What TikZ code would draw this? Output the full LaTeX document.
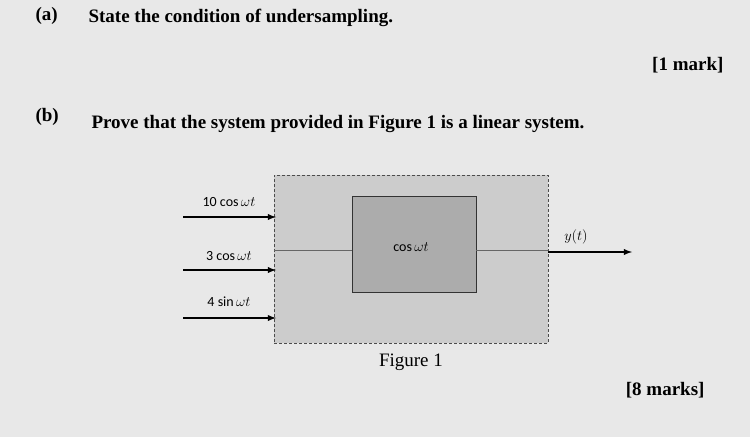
\documentclass[tikz,border=0pt]{standalone}
\usepackage{fontspec}
\setmainfont{Liberation Serif}
\newfontfamily\carfont{Carlito}
\begin{document}
\begin{tikzpicture}[x=1pt,y=-1pt,
 q/.style={anchor=west,font=\fontsize{19}{21}\selectfont\bfseries},
 lab/.style={font=\carfont\fontsize{14}{16}\selectfont},
 arr/.style={-latex,line width=1.8pt},
 thinln/.style={draw=black!60,line width=0.5pt}]
\fill[gray!18] (0,0) rectangle (750,437);
\useasboundingbox (0,0) rectangle (750,437);
\node[q] (a) at (32,16) {(a)};
\node[q] (qa) at (85,18) {State the condition of undersampling.};
\node[q,anchor=east] (m1) at (727,65) {[1 mark]};
\node[q] (b) at (32,117) {(b)};
\node[q] (qb) at (88,124) {Prove that the system provided in Figure 1 is a linear system.};
\node[draw=black!70,densely dashed,fill=gray!40,minimum width=274pt,minimum height=168pt,inner sep=0] (outer) at (411,259) {};
\node[draw=black!80,line width=0.8pt,fill=gray!65,minimum width=124pt,minimum height=96pt,inner sep=0] (inner) at (414,244) {};
\node[lab] (c) at (411,247) {cos\,$\omega t$};
\coordinate (ol) at (outer.west|-0,250);
\coordinate (or) at (outer.east|-0,250);
\draw[thinln] (ol) -- (inner.west|-ol);
\draw[thinln] (inner.east|-or) -- (or);
\coordinate (yo) at (548,252);
\coordinate (ye) at (632,252);
\draw[arr] (yo) -- (ye);
\node[lab] (y) at (576,237) {$y(t)$};
\foreach \n/\yy/\ly/\t in {i1/217/202/10 cos\,$\omega t$, i2/270/256/3 cos\,$\omega t$, i3/318/302/4 sin\,$\omega t$}{
 \coordinate (\n s) at (183,\yy);
 \coordinate (\n e) at (276,\yy);
 \draw[arr] (\n s) -- (\n e);
 \node[lab] (\n l) at (229,\ly) {\t};
}
\node[font=\fontsize{19}{21}\selectfont] (fig) at (411,362) {Figure 1};
\node[q,anchor=east] (m8) at (708,390) {[8 marks]};
\end{tikzpicture}
\end{document}
